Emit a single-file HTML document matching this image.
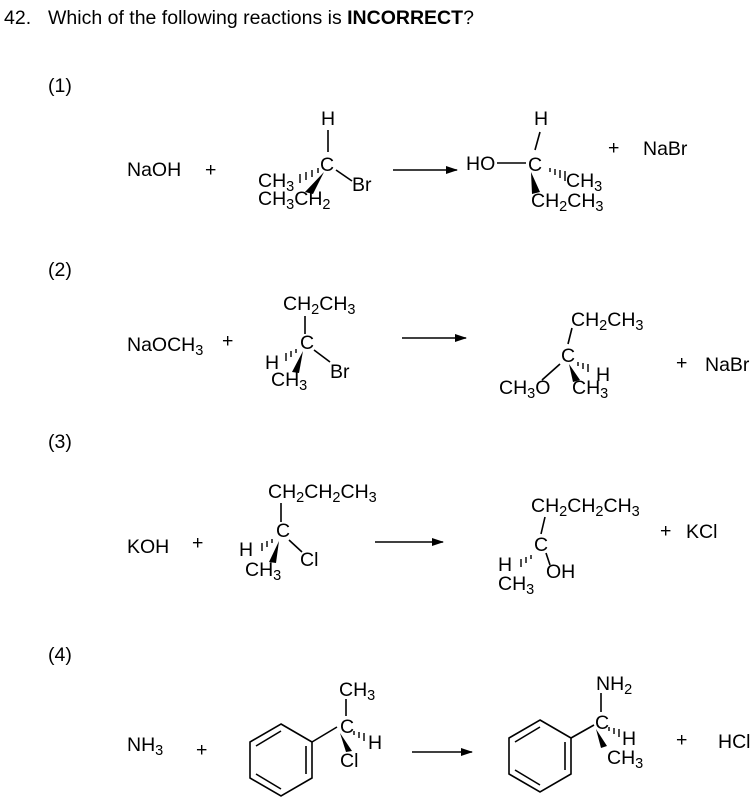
<!DOCTYPE html>
<html><head><meta charset="utf-8"><style>
html,body{margin:0;padding:0;background:#fff}
svg text{font-family:"Liberation Sans",Arial,sans-serif;font-size:19.5px;fill:#000}
.s{font-size:14.5px}
</style></head><body>
<svg width="756" height="804" viewBox="0 0 756 804" xmlns="http://www.w3.org/2000/svg">
<defs>
<marker id="ar" markerWidth="12" markerHeight="8" refX="11" refY="4" orient="auto" markerUnits="userSpaceOnUse">
<path d="M0,0 L12,4 L0,8 z" fill="#000"/></marker>
</defs>
<g stroke="#000" stroke-width="1.6" fill="none">
<line x1="393" y1="170" x2="457" y2="170" marker-end="url(#ar)"/>
<line x1="402" y1="338" x2="466" y2="338" marker-end="url(#ar)"/>
<line x1="375" y1="542" x2="443" y2="542" marker-end="url(#ar)"/>
<line x1="412" y1="752" x2="472" y2="752" marker-end="url(#ar)"/>
<line x1="328" y1="130" x2="328" y2="152"/>
<line x1="336" y1="170" x2="352" y2="181"/>
<line x1="497" y1="163" x2="526" y2="163"/>
<line x1="540" y1="132" x2="535" y2="150"/>
<line x1="305" y1="316" x2="305" y2="334"/>
<line x1="314" y1="350" x2="330" y2="362"/>
<line x1="572" y1="328" x2="568" y2="344"/>
<line x1="560" y1="364" x2="542" y2="380"/>
<line x1="281" y1="503" x2="281" y2="522"/>
<line x1="289" y1="540" x2="302" y2="552"/>
<line x1="545" y1="517" x2="541" y2="534"/>
<line x1="546" y1="553" x2="550" y2="565"/>
<line x1="346" y1="699" x2="346" y2="716"/>
<polygon points="281,724 312,742 312,778 281,796 250,778 250,742"/>
<line x1="306" y1="746" x2="306" y2="774"/>
<line x1="256" y1="746" x2="281" y2="731"/>
<line x1="256" y1="774" x2="281" y2="789"/>
<line x1="312" y1="742" x2="337" y2="727"/>
<line x1="601" y1="693" x2="601" y2="712"/>
<polygon points="540,720 571,738 571,774 540,792 509,774 509,738"/>
<line x1="565" y1="742" x2="565" y2="770"/>
<line x1="515" y1="742" x2="540" y2="727"/>
<line x1="515" y1="770" x2="540" y2="785"/>
<line x1="571" y1="738" x2="594" y2="725"/>
</g>
<g stroke="#000" stroke-width="1.4">
<line x1="318" y1="168" x2="318" y2="173"/><line x1="312" y1="170" x2="312" y2="177"/><line x1="306" y1="172" x2="306" y2="180"/><line x1="300" y1="174" x2="300" y2="183"/>
<line x1="550" y1="168" x2="550" y2="172"/><line x1="555" y1="169" x2="555" y2="175"/><line x1="560" y1="170" x2="560" y2="178"/><line x1="565" y1="171" x2="565" y2="181"/>
<line x1="296" y1="349" x2="296" y2="353"/><line x1="291" y1="351" x2="291" y2="357"/><line x1="286" y1="353" x2="286" y2="361"/>
<line x1="578" y1="362" x2="578" y2="366"/><line x1="583" y1="363" x2="583" y2="369"/><line x1="588" y1="364" x2="588" y2="372"/>
<line x1="272" y1="539" x2="272" y2="543"/><line x1="267" y1="541" x2="267" y2="547"/><line x1="262" y1="543" x2="262" y2="551"/>
<line x1="531" y1="555" x2="531" y2="559"/><line x1="526" y1="557" x2="526" y2="563"/><line x1="521" y1="559" x2="521" y2="567"/>
<line x1="354" y1="731" x2="354" y2="735"/><line x1="359" y1="732" x2="359" y2="738"/><line x1="364" y1="733" x2="364" y2="741"/>
<line x1="609" y1="727" x2="609" y2="731"/><line x1="614" y1="728" x2="614" y2="734"/><line x1="619" y1="729" x2="619" y2="737"/>
</g>
<g fill="#000">
<polygon points="324,172 305,192 313,194"/>
<polygon points="531,172 532,194 540,192"/>
<polygon points="303,351 292,372 299,373"/>
<polygon points="569,364 573,382 580,380"/>
<polygon points="279,541 269,562 276,563"/>
<polygon points="340,733 346,752 352,751"/>
<polygon points="596,729 601,748 607,746"/>
</g>
<text x="4" y="24">42.</text>
<text x="48" y="24">Which of the following reactions is <tspan font-weight="bold">INCORRECT</tspan>?</text>
<text x="48" y="92">(1)</text>
<text x="127" y="176">NaOH</text><text x="205" y="176">+</text>
<text x="321" y="125">H</text>
<text x="320" y="171">C</text>
<text x="258" y="187">CH<tspan class="s" dy="4">3</tspan></text>
<text x="258" y="205">CH<tspan class="s" dy="4">3</tspan><tspan dy="-4">CH</tspan><tspan class="s" dy="4">2</tspan></text>
<text x="352" y="191">Br</text>
<text x="466" y="170">HO</text>
<text x="534" y="125">H</text>
<text x="528" y="171">C</text>
<text x="566" y="187">CH<tspan class="s" dy="4">3</tspan></text>
<text x="531" y="207">CH<tspan class="s" dy="4">2</tspan><tspan dy="-4">CH</tspan><tspan class="s" dy="4">3</tspan></text>
<text x="608" y="154">+</text><text x="643" y="155">NaBr</text>

<text x="48" y="276">(2)</text>
<text x="127" y="351">NaOCH<tspan class="s" dy="4">3</tspan></text><text x="222" y="347">+</text>
<text x="283" y="310">CH<tspan class="s" dy="4">2</tspan><tspan dy="-4">CH</tspan><tspan class="s" dy="4">3</tspan></text>
<text x="300" y="349">C</text>
<text x="265" y="369">H</text>
<text x="271" y="386">CH<tspan class="s" dy="4">3</tspan></text>
<text x="330" y="378">Br</text>
<text x="571" y="326">CH<tspan class="s" dy="4">2</tspan><tspan dy="-4">CH</tspan><tspan class="s" dy="4">3</tspan></text>
<text x="561" y="362">C</text>
<text x="596" y="381">H</text>
<text x="499" y="394">CH<tspan class="s" dy="4">3</tspan><tspan dy="-4">O</tspan></text>
<text x="572" y="394">CH<tspan class="s" dy="4">3</tspan></text>
<text x="676" y="369">+</text><text x="705" y="371">NaBr</text>

<text x="48" y="448">(3)</text>
<text x="127" y="553">KOH</text><text x="192" y="549">+</text>
<text x="268" y="498">CH<tspan class="s" dy="4">2</tspan><tspan dy="-4">CH</tspan><tspan class="s" dy="4">2</tspan><tspan dy="-4">CH</tspan><tspan class="s" dy="4">3</tspan></text>
<text x="276" y="537">C</text>
<text x="239" y="556">H</text>
<text x="245" y="576">CH<tspan class="s" dy="4">3</tspan></text>
<text x="300" y="566">Cl</text>
<text x="531" y="512">CH<tspan class="s" dy="4">2</tspan><tspan dy="-4">CH</tspan><tspan class="s" dy="4">2</tspan><tspan dy="-4">CH</tspan><tspan class="s" dy="4">3</tspan></text>
<text x="534" y="551">C</text>
<text x="498" y="571">H</text>
<text x="498" y="590">CH<tspan class="s" dy="4">3</tspan></text>
<text x="546" y="578">OH</text>
<text x="660" y="537">+</text><text x="686" y="538">KCl</text>

<text x="48" y="661">(4)</text>
<text x="127" y="751">NH<tspan class="s" dy="4">3</tspan></text><text x="196" y="756">+</text>
<text x="339" y="696">CH<tspan class="s" dy="4">3</tspan></text>
<text x="340" y="733">C</text>
<text x="368" y="749">H</text>
<text x="340" y="767">Cl</text>
<text x="596" y="690">NH<tspan class="s" dy="4">2</tspan></text>
<text x="595" y="729">C</text>
<text x="622" y="745">H</text>
<text x="607" y="764">CH<tspan class="s" dy="4">3</tspan></text>
<text x="676" y="746">+</text><text x="718" y="748">HCl</text>
</svg>
</body></html>
